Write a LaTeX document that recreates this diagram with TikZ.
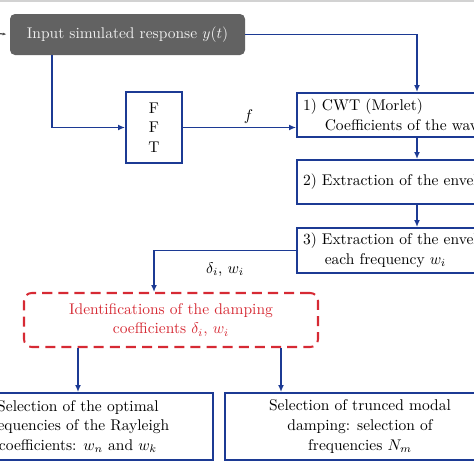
\documentclass[tikz,border=0pt]{standalone}
\usetikzlibrary{arrows.meta,calc,positioning}
\definecolor{flowblue}{RGB}{28,58,148}
\definecolor{dampred}{RGB}{214,42,52}
\definecolor{inputgray}{RGB}{98,98,98}
\begin{document}
\begin{tikzpicture}[x=0.645pt,y=-0.645pt,
	every node/.style={font=\fontsize{10}{12.7}\selectfont,inner sep=0},
	stage/.style={draw=flowblue,line width=1.2pt,minimum height=44*0.645pt,
		text width=147pt,inner xsep=3.9pt,align=left},
	pick/.style={draw=flowblue,line width=1.2pt,minimum width=270*0.645pt,
		minimum height=67*0.645pt,align=center},
	flow/.style={draw=flowblue,line width=1.2pt,-{Latex[length=4.5pt,width=3.8pt]}}]
\useasboundingbox (0,0) rectangle (474,474);
\fill[gray!35] (0,0) rectangle (474,2);
% input and fft
\node[fill=inputgray,text=gray!12,rounded corners=3.2pt,minimum width=235*0.645pt,
	minimum height=41*0.645pt] (input) at (127.5,34.5) {Input simulated response $y(t)$};
\coordinate (feed) at (-3,33.5);
\draw[gray!60!black,line width=0.8pt,-{Latex[length=2.5pt]},shorten >=2pt] (feed) -- (input.west);
\node[draw=flowblue,line width=1.2pt,minimum width=56*0.645pt,minimum height=71*0.645pt,
	align=center] (fft) at (154,127.5) {F\\F\\T};
% wavelet stages
\node[stage] (cwt) at (417,115) {1) CWT (Morlet)\\\hspace*{14pt}Coefficients of the wavelet};
\node[stage] (env2) at (417,182) {2) Extraction of the envelope};
\node[stage,minimum height=45*0.645pt] (env3) at (417,250.5)
	{3) Extraction of the envelope\\\hspace*{14pt}each frequency $w_i$};
% damping
\node[draw=dampred,text=dampred,line width=1.3pt,dash pattern=on 6.5pt off 3.9pt,
	rounded corners=5pt,minimum width=294*0.645pt,minimum height=54*0.645pt,align=center]
	(ident) at (171,320) {Identifications of the damping\\coefficients $\delta_i$, $w_i$};
\node[pick] (optsel) at (78,426.5)
	{Selection of the optimal\\frequencies of the Rayleigh\\coefficients: $w_n$ and $w_k$};
\node[pick] (modsel) at (360,426.5)
	{Selection of trunced modal\\damping: selection of\\frequencies $N_m$};
% connectors
\draw[flow] ($(input.south)+(-75.5,0)$) |- (fft.west);
\draw[flow] (input.east) -| (cwt.north);
\draw[flow] (fft.east) -- node[above=2pt,pos=0.58] {$f$} (fft.east -| cwt.west);
\draw[flow] (cwt) -- (env2);
\draw[flow] (env2) -- (env3);
\draw[flow] (env3.west) -| node[below=7pt,pos=0.25] {$\delta_i$, $w_i$} ($(ident.north)+(-17,0)$);
\draw[flow] (ident.south -| optsel.north) -- (optsel.north);
\draw[flow] ($(ident.south)+(110,0)$) coordinate (down) -- (down |- modsel.north);
\end{tikzpicture}
\end{document}
